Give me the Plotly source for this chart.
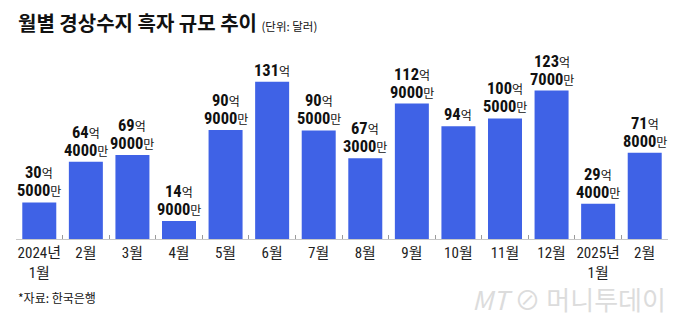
import plotly.graph_objects as go

# Monthly current-account surplus (unit: 100 million USD)
periods = ["2024-01", "2024-02", "2024-03", "2024-04", "2024-05", "2024-06", "2024-07",
           "2024-08", "2024-09", "2024-10", "2024-11", "2024-12", "2025-01", "2025-02"]
month_labels = ["2024년<br>1월", "2월", "3월", "4월", "5월", "6월", "7월",
                "8월", "9월", "10월", "11월", "12월", "2025년<br>1월", "2월"]
surplus = [30.5, 64.4, 69.9, 14.9, 90.9, 131.0, 90.5,
           67.3, 112.9, 94.0, 100.5, 123.7, 29.4, 71.8]

BAR_COLOR = "#3F62E6"
NUM_FONT = "Liberation Sans Narrow, Arial Narrow, Roboto Condensed, Liberation Sans, Noto Sans CJK KR"
KR_FONT = "Noto Sans CJK KR"

W, H = 680, 323
M_L, M_R, M_T, M_B = 16, 12, 40, 84
PLOT_H = H - M_T - M_B
Y_MAX = PLOT_H / 1.2


def split_amount(v):
    eok = int(v)
    man = int(round((v - eok) * 10000))
    return eok, man


fig = go.Figure(go.Bar(
    x=periods,
    y=surplus,
    marker=dict(color=BAR_COLOR, line=dict(width=0)),
    hoverinfo="skip",
))

annotations = []
for p, v in zip(periods, surplus):
    eok, man = split_amount(v)
    line1 = f"<b>{eok}</b><span style='font-size:12px;font-family:{KR_FONT}'>억</span>"
    lines = [line1]
    if man:
        lines.append(f"<b>{man}</b><span style='font-size:12px;font-family:{KR_FONT}'>만</span>")
    # stack lines upward from the bar top
    for i, txt in enumerate(reversed(lines)):
        annotations.append(dict(
            x=p, y=v, xref="x", yref="y",
            text=txt, showarrow=False,
            xanchor="center", yanchor="bottom",
            yshift=1 + i * 18, borderpad=0,
            font=dict(family=NUM_FONT, size=16.5, color="#111111"),
        ))

# title and subtitle
annotations.append(dict(
    x=0, xref="paper", xanchor="left", xshift=0,
    y=1 + 17 / PLOT_H, yref="paper", yanchor="middle",
    text="<b>월별 경상수지 흑자 규모 추이</b> <span style='font-size:11.5px'>(단위: 달러)</span>",
    showarrow=False,
    font=dict(family=KR_FONT, size=20, color="#111111"),
))
# source note
annotations.append(dict(
    x=0, xref="paper", xanchor="left",
    y=-(297 - (H - M_B)) / PLOT_H, yref="paper", yanchor="middle",
    text="*자료: 한국은행", showarrow=False,
    font=dict(family=KR_FONT, size=12, color="#111111"),
))
# publisher mark
annotations.append(dict(
    x=1, xref="paper", xanchor="right",
    y=-(298 - (H - M_B)) / PLOT_H, yref="paper", yanchor="middle",
    text="<i>MT</i> ⊘ 머니투데이", showarrow=False,
    font=dict(family=KR_FONT, size=26, color="#DCDCDC"),
))

fig.update_layout(
    width=W, height=H,
    margin=dict(l=M_L, r=M_R, t=M_T, b=M_B),
    paper_bgcolor="white", plot_bgcolor="white",
    bargap=0.27,
    showlegend=False,
    annotations=annotations,
    xaxis=dict(
        type="category",
        categoryorder="array", categoryarray=periods,
        tickmode="array", tickvals=periods, ticktext=month_labels,
        tickangle=0,
        tickson="boundaries",
        ticks="inside", ticklen=4, tickcolor="#9A9A9A", tickwidth=1,
        showline=True, linecolor="#C8C8C8", linewidth=1,
        showgrid=False,
        tickfont=dict(family=NUM_FONT, size=15, color="#222222"),
        fixedrange=True,
    ),
    yaxis=dict(
        range=[0, Y_MAX],
        visible=False,
        showgrid=False, zeroline=False,
        fixedrange=True,
    ),
)

fig.write_html("out.html")
